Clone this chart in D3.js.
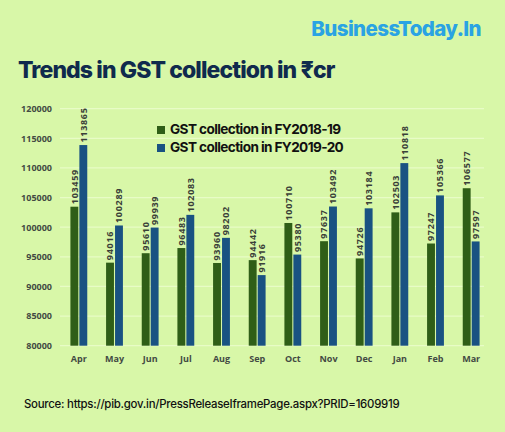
<!DOCTYPE html>
<html lang="en">
<head>
<meta charset="UTF-8"/>
<title>Trends in GST collection</title>
<script src="https://d3js.org/d3.v7.min.js"></script>
<style>
    body { margin: 0; background: #d8f7a8; }
    svg { display: block; }
</style>
</head>
<body>
<div id="chart"></div>
<script>
    var months = ["Apr", "May", "Jun", "Jul", "Aug", "Sep", "Oct", "Nov", "Dec", "Jan", "Feb", "Mar"];
    var fy1819 = [103459, 94016, 95610, 96483, 93960, 94442, 100710, 97637, 94726, 102503, 97247, 106577];
    var fy1920 = [113865, 100289, 99939, 102083, 98202, 91916, 95380, 103492, 103184, 110818, 105366, 97597];
    var yTicks = [80000, 85000, 90000, 95000, 100000, 105000, 110000, 115000, 120000];
    var seriesNames = ["GST collection in FY2018-19", "GST collection in FY2019-20"];
    var colors = ["#2f5e17", "#195282"];

    var width = 505, height = 432;

    var svg = d3.select("#chart").append("svg")
        .attr("width", width).attr("height", height);

    svg.append("rect").attr("width", width).attr("height", height).attr("fill", "#d8f7a8");

    // header
    svg.append("text").attr("x", 481).attr("y", 36).attr("text-anchor", "end")
        .style("font-family", "Inter").style("font-weight", 800).style("font-size", "20.5px")
        .style("letter-spacing", "-0.6px").attr("fill", "#2aa3e3")
        .text("BusinessToday.In");

    svg.append("text").attr("x", 18).attr("y", 78)
        .style("font-family", "Inter").style("font-weight", 800).style("font-size", "23px")
        .style("letter-spacing", "-0.9px").attr("fill", "#0f2a4d")
        .text("Trends in GST collection in ₹cr");

    var x = d3.scaleBand().domain(months).range([61, 489]);
    var xs = d3.scaleBand().domain([0, 1]).range([0, x.bandwidth()]).paddingInner(0.12).paddingOuter(1.05);
    var y = d3.scaleLinear().domain([80000, 120000]).range([345.7, 108.7]);

    // grid
    svg.append("g").selectAll("line").data(yTicks).enter().append("line")
        .attr("x1", 60).attr("x2", 484)
        .attr("y1", function (d) { return y(d); })
        .attr("y2", function (d) { return y(d); })
        .attr("stroke", "#e8fcc6").attr("stroke-width", 1.2);

    // y axis labels
    var yAxis = d3.axisLeft(y).tickValues(yTicks).tickSize(0).tickPadding(0).tickFormat(d3.format("d"));
    var gy = svg.append("g").attr("transform", "translate(52,0)").call(yAxis);
    gy.select(".domain").remove();
    gy.selectAll("text").style("font-family", "Open Sans").style("font-weight", 700)
        .style("font-size", "9px").attr("fill", "#434a43");

    // x axis labels
    var xAxis = d3.axisBottom(x).tickSize(0).tickPadding(0);
    var gx = svg.append("g").attr("transform", "translate(0,356)").call(xAxis);
    gx.select(".domain").remove();
    gx.selectAll("text").style("font-family", "Open Sans").style("font-weight", 700)
        .style("font-size", "9px").attr("fill", "#434a43");

    var series = [fy1819, fy1920];
    series.forEach(function (vals, s) {
        var g = svg.append("g");
        g.selectAll("rect").data(vals).enter().append("rect")
            .attr("x", function (d, i) { return x(months[i]) + xs(s); })
            .attr("width", xs.bandwidth())
            .attr("y", function (d) { return y(d); })
            .attr("height", function (d) { return y(80000) - y(d); })
            .attr("fill", colors[s]);
        g.selectAll("text").data(vals).enter().append("text")
            .attr("transform", function (d, i) {
                var cx = x(months[i]) + xs(s) + xs.bandwidth() / 2 + 3.3;
                return "translate(" + cx + "," + (y(d) - 2.5) + ") rotate(-90)";
            })
            .style("font-family", "Open Sans").style("font-weight", 700)
            .style("font-size", "9px").style("letter-spacing", "0.7px").attr("fill", "#3a4038")
            .text(function (d) { return d; });
    });

    // legend
    var legend = svg.append("g");
    seriesNames.forEach(function (n, i) {
        legend.append("rect").attr("x", 157).attr("y", 126 + i * 18)
            .attr("width", 8).attr("height", 8).attr("fill", colors[i]);
        legend.append("text").attr("x", 170).attr("y", 134.3 + i * 17.6)
            .style("font-family", "Inter").style("font-weight", 700).style("font-size", "13.6px")
            .style("letter-spacing", "-0.6px").attr("fill", "#111")
            .text(n);
    });

    svg.append("text").attr("x", 24).attr("y", 408)
        .style("font-family", "Inter").style("font-weight", 500).style("font-size", "11.4px")
        .style("letter-spacing", "-0.25px").attr("fill", "#111")
        .text("Source: https://pib.gov.in/PressReleaseIframePage.aspx?PRID=1609919");
</script>
</body>
</html>
